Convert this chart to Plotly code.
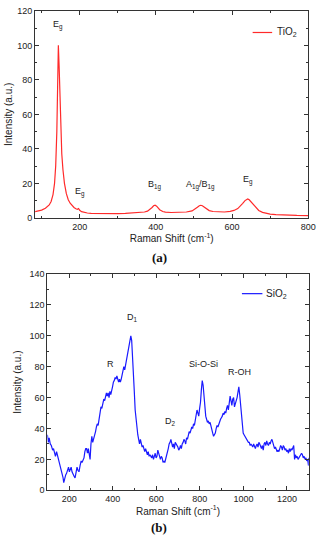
import plotly.graph_objects as go

# ---------------- data: TiO2 (panel a) ----------------
tio2_x = [83, 90, 100, 110, 120, 125, 130, 134, 137, 140, 142, 144, 146, 148, 150, 153,
          156, 160, 165, 170, 175, 180, 185, 190, 194, 197, 200, 205, 210, 220, 230, 245,
          260, 280, 300, 320, 340, 355, 370, 378, 385, 390, 394, 398, 402, 406, 410, 418,
          425, 440, 460, 480, 495, 503, 509, 514, 518, 522, 527, 533, 540, 550, 565, 580,
          595, 605, 615, 622, 628, 634, 638, 641, 645, 650, 656, 662, 670, 680, 690, 700,
          715, 730, 750, 770, 800]
tio2_y = [3.6, 3.9, 4.5, 5.6, 7.5, 9.5, 13.5, 20, 30, 50, 72, 100, 88, 68, 52, 37,
          28, 20, 14, 10.5, 8.5, 7.0, 6.0, 5.3, 5.0, 5.4, 4.4, 3.6, 3.2, 2.8, 2.6, 2.5,
          2.4, 2.4, 2.5, 2.6, 2.8, 3.0, 3.4, 3.9, 4.9, 6.0, 7.0, 7.3, 6.8, 5.8, 4.7, 3.7,
          3.3, 3.1, 3.1, 3.4, 4.0, 5.0, 6.2, 7.0, 7.3, 7.0, 6.1, 5.0, 4.2, 3.7, 3.4, 3.4,
          3.8, 4.3, 5.4, 6.8, 8.4, 10.0, 10.8, 11.0, 10.5, 9.2, 7.4, 5.8, 4.3, 3.2, 2.6, 2.2,
          1.9, 1.7, 1.5, 1.4, 1.3]

tio2_labels = ["E<sub>g</sub>", "E<sub>g</sub>", "B<sub>1g</sub>",
               "A<sub>1g</sub>/B<sub>1g</sub>", "E<sub>g</sub>"]
tio2_label_x = [144, 200, 399, 516, 641]
tio2_label_y = [107, 10.5, 14.5, 14.5, 17.5]

# ---------------- data: SiO2 (panel b) ----------------
sio2_x = [100, 104, 108, 113, 118, 124, 128, 133, 137, 142, 147, 152, 157, 163, 168, 172,
          175, 179, 184, 188, 193, 197, 201, 205, 209, 213, 218, 223, 227, 231, 236, 240,
          245, 250, 255, 259, 263, 268, 272, 276, 280, 284, 288, 292, 296, 300, 304, 308,
          312, 317, 321, 325, 329, 333, 338, 342, 346, 350, 355, 359, 363, 367, 371, 375,
          379, 383, 387, 391, 395, 399, 403, 407, 411, 415, 419, 423, 427, 431, 435, 439,
          443, 447, 451, 455, 459, 463, 467, 471, 475, 479, 483, 487, 491, 495, 499, 503,
          507, 511, 515, 519, 523, 527, 531, 535, 539, 543, 547, 551, 555, 559, 563, 567,
          571, 575, 579, 583, 587, 591, 595, 599, 603, 607, 611, 615, 619, 623, 627, 631,
          635, 639, 643, 647, 651, 655, 659, 663, 667, 671, 675, 679, 683, 687, 691, 695,
          699, 703, 707, 711, 715, 719, 723, 727, 731, 735, 739, 743, 747, 751, 755, 759,
          763, 767, 771, 775, 779, 783, 787, 791, 795, 799, 803, 807, 811, 815, 819, 823,
          827, 831, 835, 839, 843, 847, 851, 855, 859, 863, 867, 871, 875, 879, 883, 887,
          891, 895, 899, 903, 907, 911, 915, 919, 923, 927, 931, 935, 939, 943, 947, 951,
          955, 959, 963, 967, 971, 975, 979, 983, 987, 991, 995, 999, 1003, 1007, 1011, 1015,
          1019, 1023, 1027, 1031, 1035, 1039, 1043, 1047, 1051, 1055, 1059, 1063, 1067, 1071,
          1075, 1079, 1083, 1087, 1091, 1095, 1099, 1103, 1107, 1111, 1115, 1119, 1123, 1127,
          1131, 1135, 1139, 1143, 1147, 1151, 1155, 1159, 1163, 1167, 1171, 1175, 1179, 1183,
          1187, 1191, 1195, 1199, 1203, 1207, 1211, 1215, 1219, 1223, 1227, 1231, 1235, 1239,
          1243, 1247, 1251, 1255, 1259, 1263, 1267, 1271, 1275, 1279, 1283, 1287, 1291, 1295,
          1299, 1300]
sio2_y = [36, 31, 34, 30, 29, 26, 27, 24, 22, 25, 22, 21, 17, 13, 11, 8,
          5, 8, 10, 11, 14, 15, 12, 14, 15, 12, 10, 9, 8, 12, 15, 13,
          12, 16, 19, 18, 20, 21, 25, 27, 27, 24, 27, 23, 20, 30, 35, 31,
          33, 35, 38, 41, 43, 42, 46, 50, 54, 53, 56, 59, 58, 62, 63, 61,
          63, 60, 64, 62, 64, 67, 70, 71, 73, 72, 74, 71, 70, 72, 70, 72,
          75, 78, 80, 78, 81, 86, 88, 92, 94, 97, 100, 97, 88, 76, 64, 52,
          45, 40, 36, 33, 30, 33, 30, 28, 29, 26, 25, 27, 24, 23, 25, 22,
          23, 22, 21, 23, 20, 22, 24, 21, 22, 26, 24, 22, 20, 22, 21, 18,
          19, 18, 20, 22, 25, 27, 30, 31, 33, 31, 28, 30, 27, 31, 30, 29,
          28, 26, 27, 29, 27, 30, 31, 33, 32, 30, 34, 33, 36, 38, 37, 39,
          41, 40, 43, 42, 46, 51, 52, 50, 48, 53, 57, 65, 71, 68, 60, 53,
          48, 46, 44, 45, 43, 44, 41, 40, 37, 35, 36, 37, 40, 42, 41, 43,
          44, 46, 47, 48, 50, 49, 51, 50, 53, 55, 52, 56, 61, 58, 55, 59,
          60, 54, 57, 58, 60, 63, 67, 62, 55, 48, 42, 37, 36, 35, 34, 33,
          32, 31, 31, 29, 30, 29, 28, 30, 28, 27, 29, 30, 28, 31,
          30, 28, 27, 29, 26, 30, 31, 29, 32, 30, 29, 31, 30, 32,
          33, 31, 29, 27, 28, 26, 25, 26, 25, 27, 29, 28, 26, 29,
          28, 26, 27, 25, 26, 24, 27, 25, 27, 26, 28, 29, 20, 23,
          21, 22, 20, 21, 22, 23, 24, 23, 21, 22, 20, 21, 19, 20,
          16, 21]

sio2_labels = ["R", "D<sub>1</sub>", "D<sub>2</sub>", "Si-O-Si", "R-OH"]
sio2_label_x = [389, 489, 664, 817, 981]
sio2_label_y = [77, 107, 40, 77, 72]

# ---------------- figure ----------------
W, H = 326, 550
FONT = "Liberation Sans, Arial, sans-serif"
AXC = "#333333"

fig = go.Figure()
fig.add_trace(go.Scatter(x=tio2_x, y=tio2_y, mode="lines", name="TiO<sub>2</sub>",
                         line=dict(color="#ff2a2a", width=1.2), xaxis="x", yaxis="y",
                         showlegend=False, hoverinfo="skip"))
fig.add_trace(go.Scatter(x=sio2_x, y=sio2_y, mode="lines", name="SiO<sub>2</sub>",
                         line=dict(color="#1a1aff", width=1.2), xaxis="x2", yaxis="y2",
                         showlegend=False, hoverinfo="skip"))

def px(v):
    return v / W

def py(v):
    return 1 - v / H

common = dict(showline=True, linecolor=AXC, linewidth=1, mirror="ticks",
              ticks="inside", ticklen=4, tickcolor=AXC, showgrid=False, zeroline=False,
              ticklabeloverflow="allow",
              tickfont=dict(family=FONT, size=9, color="#222"),
              minor=dict(ticks="inside", ticklen=2, tickcolor=AXC))

fig.update_layout(
    width=W, height=H, margin=dict(l=0, r=0, t=0, b=0),
    paper_bgcolor="white", plot_bgcolor="white",
    xaxis=dict(domain=[px(36), px(316)], range=[83, 800], dtick=200, tick0=0,
               minor_dtick=100, anchor="y",
               title=dict(text="Raman Shift (cm<sup>-1</sup>)", standoff=4,
                          font=dict(family=FONT, size=10, color="#222")), **common),
    yaxis=dict(domain=[py(216.8), py(6)], range=[0, 120], dtick=20, minor_dtick=10,
               anchor="x",
               title=dict(text="Intensity (a.u.)", standoff=2,
                          font=dict(family=FONT, size=10, color="#222")), **common),
    xaxis2=dict(domain=[px(48.6), px(316.5)], range=[100, 1300], dtick=200, tick0=0,
                minor_dtick=100, anchor="y2",
                title=dict(text="Raman Shift (cm<sup>-1</sup>)", standoff=4,
                           font=dict(family=FONT, size=10, color="#222")), **common),
    yaxis2=dict(domain=[py(494.3), py(274)], range=[0, 140], dtick=20, minor_dtick=10,
                anchor="x2",
                title=dict(text="Intensity (a.u.)", standoff=6,
                           font=dict(family=FONT, size=10, color="#222")), **common),
)

ann = []
for t, x, y in zip(tio2_labels, tio2_label_x, tio2_label_y):
    ann.append(dict(text=t, x=x, y=y, xref="x", yref="y", showarrow=False,
                    font=dict(family=FONT, size=9, color="#222"), yanchor="bottom"))
for t, x, y in zip(sio2_labels, sio2_label_x, sio2_label_y):
    ann.append(dict(text=t, x=x, y=y, xref="x2", yref="y2", showarrow=False,
                    font=dict(family=FONT, size=9, color="#222"), yanchor="bottom"))

# legends (drawn as sample line + text)
shapes = [
    dict(type="line", xref="paper", yref="paper", x0=px(259), x1=px(279),
         y0=py(28), y1=py(28), line=dict(color="#ff2a2a", width=1.2)),
    dict(type="line", xref="paper", yref="paper", x0=px(248), x1=px(269),
         y0=py(294), y1=py(294), line=dict(color="#1a1aff", width=1.2)),
]
ann.append(dict(text="TiO<sub>2</sub>", x=px(282), y=py(28), xref="paper", yref="paper",
                xanchor="left", yanchor="middle", showarrow=False,
                font=dict(family=FONT, size=10, color="#222")))
ann.append(dict(text="SiO<sub>2</sub>", x=px(271), y=py(294), xref="paper", yref="paper",
                xanchor="left", yanchor="middle", showarrow=False,
                font=dict(family=FONT, size=10, color="#222")))

# panel captions
ann.append(dict(text="<b>(a)</b>", x=px(163), y=py(257), xref="paper", yref="paper",
                showarrow=False, font=dict(family="Liberation Serif, Times New Roman, serif",
                                           size=13, color="#111")))
ann.append(dict(text="<b>(b)</b>", x=px(163), y=py(542), xref="paper", yref="paper",
                showarrow=False, font=dict(family="Liberation Serif, Times New Roman, serif",
                                           size=13, color="#111")))

fig.update_layout(annotations=ann, shapes=shapes, hovermode=False)
fig.write_html("out.html",
               config={"displayModeBar": False},
               post_script="document.body.style.margin='0';"
                           "document.body.style.overflow='hidden';")
